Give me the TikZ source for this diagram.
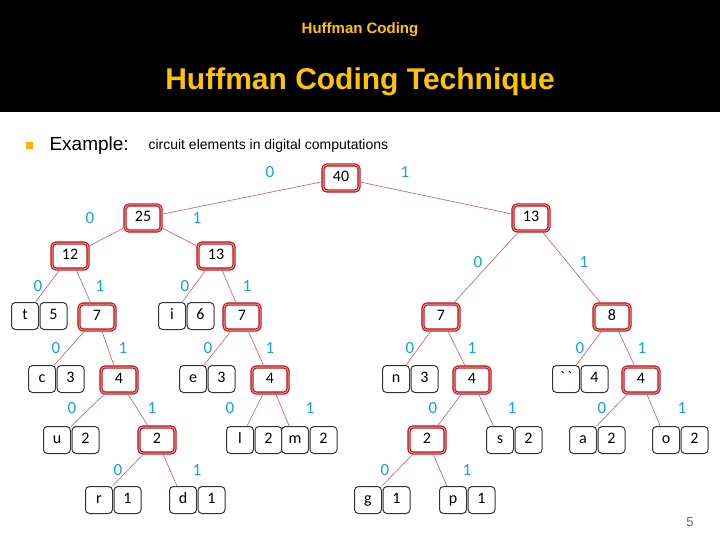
\documentclass[tikz,border=0pt]{standalone}
\usepackage{fontspec}
\setmainfont{Liberation Sans}
\newfontfamily\nodefont{Carlito}
\definecolor{hred}{RGB}{180,20,30}
\definecolor{hblue}{RGB}{20,160,225}
\definecolor{hyellow}{RGB}{255,196,0}
\tikzset{
  inner/.style={draw=hred,line width=1.1pt,double=red!45,double distance=1pt,fill=white,rounded corners=4pt,minimum width=36pt,minimum height=26pt,text height=8pt,text depth=1pt,font=\nodefont\fontsize{16}{18}\selectfont},
  leaf/.style={draw=black!80,line width=1pt,rounded corners=4pt,fill=white,minimum width=27pt,minimum height=27pt,text height=8pt,text depth=1pt,font=\nodefont\fontsize{16}{18}\selectfont},
  bit/.style={text=hblue,font=\nodefont\fontsize{17}{19}\selectfont},
  link/.style={draw=hred!70,line width=0.6pt}
}
\begin{document}
\begin{tikzpicture}[x=1pt,y=-1pt]
\useasboundingbox (0,0) rectangle (720,540);
\fill[black] (0,0) rectangle (720,112);
\node (head) at (360,30) [text=hyellow,font=\bfseries\fontsize{15}{18}\selectfont] {Huffman Coding};
\node (title) at (360,82) [text=hyellow,font=\bfseries\fontsize{30}{34}\selectfont] {Huffman Coding Technique};
\fill[hyellow!90!red] (26,142) rectangle (33,149);
\node (ex) at (46,146) [anchor=west,font=\fontsize{19}{22}\selectfont] {Example:};
\node (exb) at (145,146) [anchor=west,font=\fontsize{14}{17}\selectfont] {circuit elements in digital computations};
\node (pg) at (690,522) [text=black!60,font=\fontsize{13}{15}\selectfont] {5};

%internal nodes
\node (n40) at (341,178) [inner] {40};
\node (n25) at (143,218) [inner] {25};
\node (n13r) at (531,218) [inner] {13};
\node (n12) at (70,256) [inner] {12};
\node (n13) at (216,256) [inner] {13};
\node (n7a) at (97,317) [inner] {7};
\node (n7b) at (242,317) [inner] {7};
\node (n7c) at (441,317) [inner] {7};
\node (n8) at (612,317) [inner] {8};
\node (n4a) at (119,380) [inner] {4};
\node (n4b) at (270,380) [inner] {4};
\node (n4c) at (472,380) [inner] {4};
\node (n4d) at (641,380) [inner] {4};
\node (n2a) at (157,440) [inner] {2};
\node (n2b) at (427,440) [inner] {2};

%leaves
\foreach \nm/\ch/\w/\x/\y in {t/t/5/25/316, i/i/6/172/316, c/c/3/42/379, e/e/3/193/379, n/n/3/396/379, sp/{`\,`}/4/566/379, u/u/2/57/440, l/l/2/240/440, m/m/2/295/440, s/s/2/500/440, a/a/2/583/440, o/o/2/666/440, r/r/1/99/500, d/d/1/183/500, g/g/1/368/500, p/p/1/453/500}{
  \node (\nm) at (\x,\y) [leaf] {\ch};
  \node (\nm-w) at (\x+28.5,\y) [leaf] {\w};
}

%links
\foreach \a/\b in {n40/n25, n40/n13r, n25/n12, n25/n13, n13r/n7c, n13r/n8, n12/t, n12/n7a, n13/i, n13/n7b, n7a/c, n7a/n4a, n7b/e, n7b/n4b, n7c/n, n7c/n4c, n8/sp, n8/n4d, n4a/u, n4a/n2a, n4b/l, n4b/m, n4c/n2b, n4c/s, n4d/a, n4d/o, n2a/r, n2a/d, n2b/g, n2b/p}{
  \draw[link] (\a) -- (\b);
}

%bits
\foreach \x/\y/\v in {270/172/0, 405/172/1, 90/218/0, 197/218/1, 478/262/0, 584/262/1, 38/286/0, 100/286/1, 185/286/0, 247/286/1, 56/348/0, 123/348/1, 208/348/0, 270/348/1, 410/348/0, 472/348/1, 580/348/0, 642/348/1, 72/408/0, 152/408/1, 230/408/0, 310/408/1, 433/408/0, 512/408/1, 602/408/0, 682/408/1, 118/470/0, 197/470/1, 385/470/0, 467/470/1}{
  \node at (\x,\y) [bit] {\v};
}
\end{tikzpicture}
\end{document}
